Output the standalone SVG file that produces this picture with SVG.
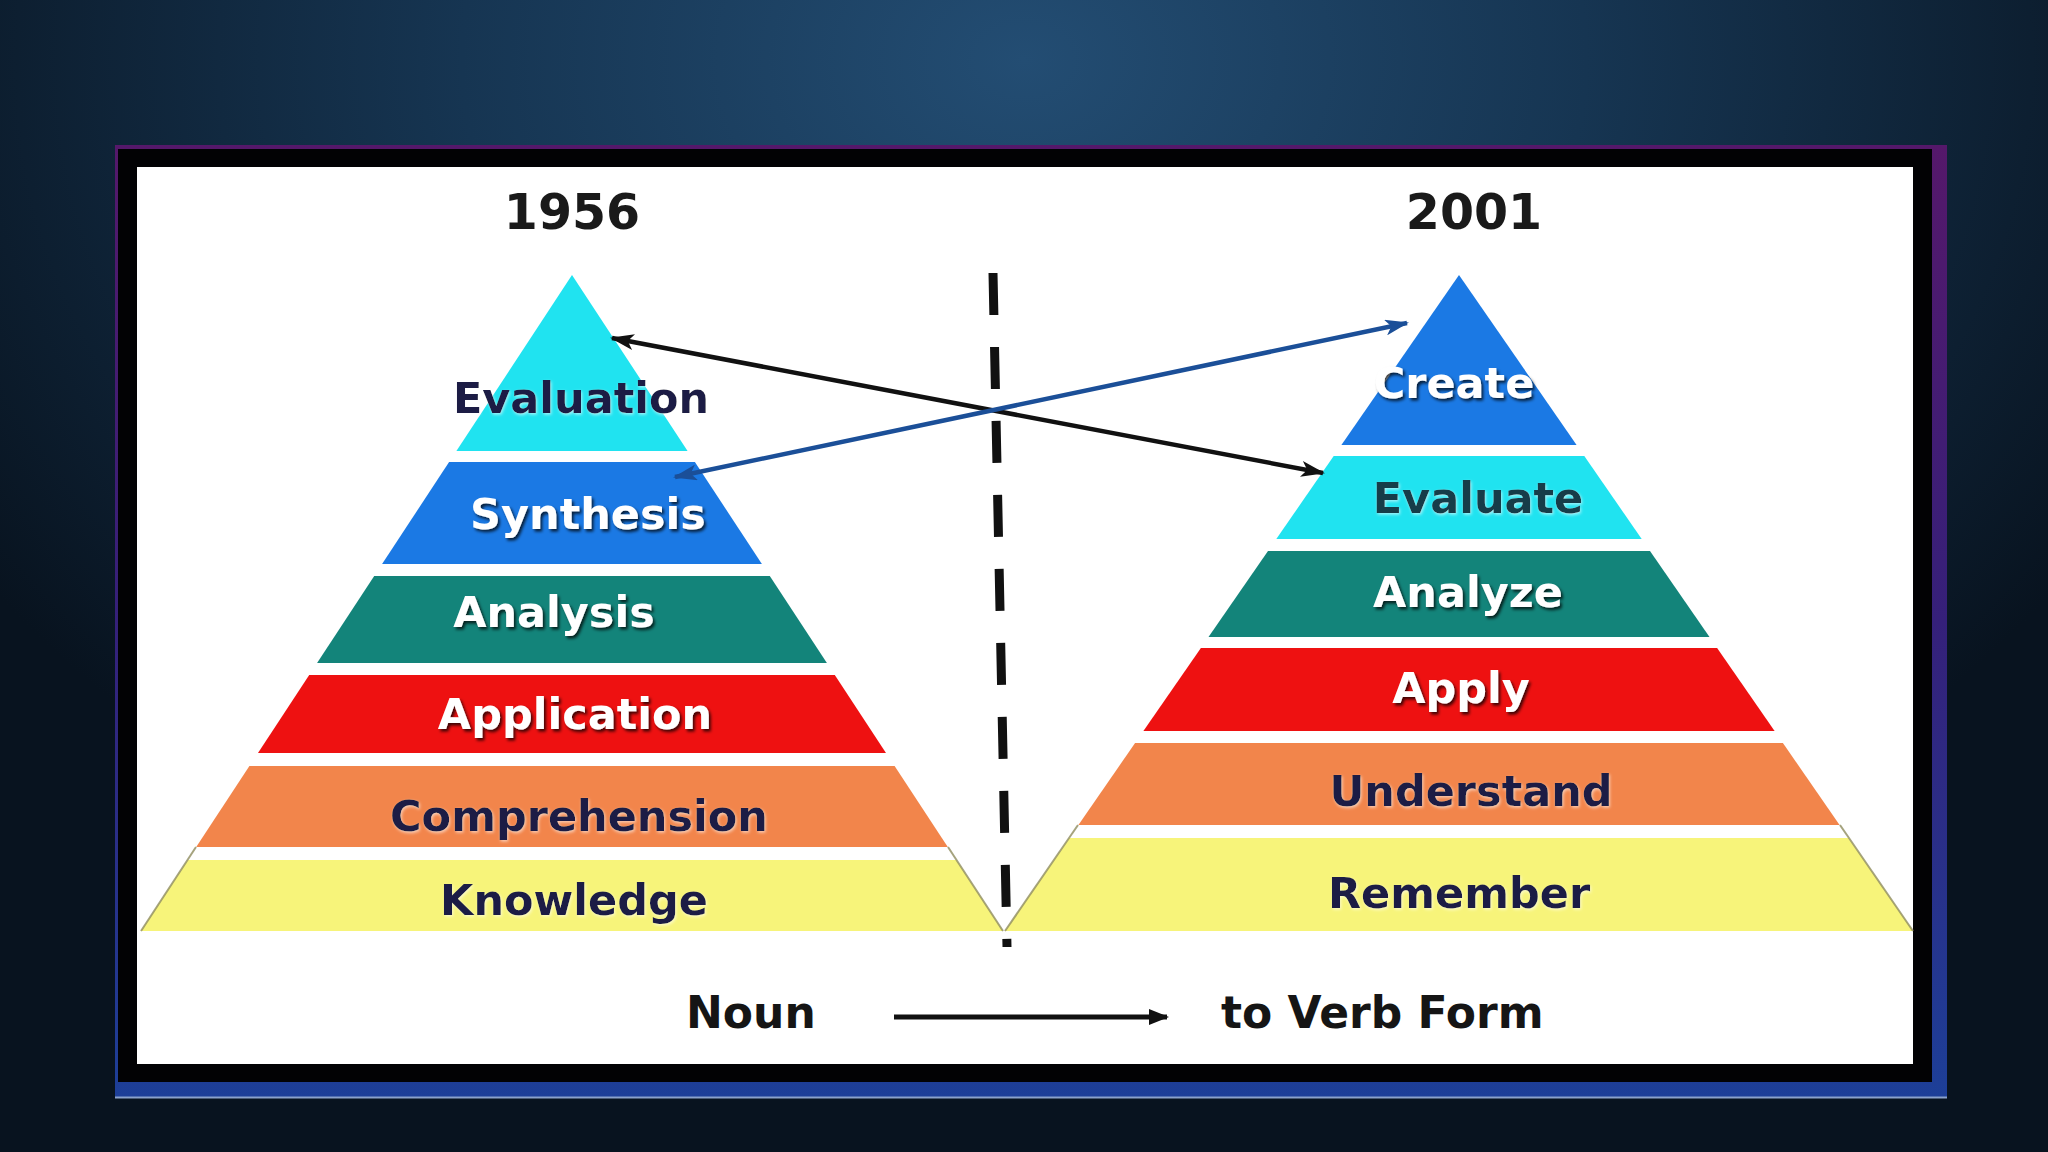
<svg xmlns="http://www.w3.org/2000/svg" width="2048" height="1152" viewBox="0 0 2048 1152">
  <defs>
    <radialGradient id="bg" cx="1024" cy="60" r="1250" gradientUnits="userSpaceOnUse" gradientTransform="translate(1024 60) scale(1 0.75) translate(-1024 -60)">
      <stop offset="0" stop-color="#234d73"/>
      <stop offset="0.45" stop-color="#163552"/>
      <stop offset="1" stop-color="#08131f"/>
    </radialGradient>
    <linearGradient id="frame" x1="0" y1="0" x2="0" y2="1">
      <stop offset="0" stop-color="#55186a"/>
      <stop offset="0.5" stop-color="#35207a"/>
      <stop offset="1" stop-color="#1d3f98"/>
    </linearGradient>
    <filter id="shadowWhite" x="-10%" y="-30%" width="120%" height="160%">
      <feDropShadow dx="2" dy="2.5" stdDeviation="1.6" flood-color="#000" flood-opacity="0.75"/>
    </filter>
    <filter id="glowDark" x="-10%" y="-30%" width="120%" height="160%">
      <feDropShadow dx="1" dy="1.5" stdDeviation="1.5" flood-color="#ffffff" flood-opacity="0.6"/>
    </filter>
    <marker id="ahBlack" viewBox="0 0 24 16" refX="22" refY="8" markerWidth="24" markerHeight="16" markerUnits="userSpaceOnUse" orient="auto-start-reverse">
      <path d="M0,0 L24,8 L0,16 L6,8 Z" fill="#111"/>
    </marker>
    <marker id="ahBlue" viewBox="0 0 24 16" refX="22" refY="8" markerWidth="24" markerHeight="16" markerUnits="userSpaceOnUse" orient="auto-start-reverse">
      <path d="M0,0 L24,8 L0,16 L6,8 Z" fill="#1b4f98"/>
    </marker>
    <marker id="ahNoun" viewBox="0 0 20 16" refX="18" refY="8" markerWidth="20" markerHeight="16" markerUnits="userSpaceOnUse" orient="auto">
      <path d="M0,0 L20,8 L0,16 Z" fill="#111"/>
    </marker>
    <style>
      .lbl { font-family: "DejaVu Sans", Verdana, sans-serif; font-weight: bold; font-size: 43px; text-anchor: middle; }
      .white { fill: #ffffff; filter: url(#shadowWhite); }
      .dark { fill: #1b1f45; filter: url(#glowDark); }
      .year { font-family: "DejaVu Sans", Verdana, sans-serif; font-weight: bold; font-size: 49px; text-anchor: middle; fill: #1a1a1a; }
      .foot { font-family: "DejaVu Sans", Verdana, sans-serif; font-weight: bold; font-size: 44px; fill: #151515; }
      .cyan { fill: #20e3f0; }
      .blue { fill: #1b79e4; }
      .teal { fill: #13847a; }
      .red { fill: #ee1111; }
      .orange { fill: #f2854b; }
      .yellow { fill: #f7f47a; }
      .edge { stroke: #8e8c5e; stroke-width: 2; fill: none; opacity: 0.8; }
    </style>
  </defs>

  <!-- background -->
  <rect x="0" y="0" width="2048" height="1152" fill="url(#bg)"/>

  <!-- frame -->
  <rect x="115" y="145" width="1832" height="953" fill="url(#frame)"/>
  <rect x="118" y="149" width="1814" height="933" fill="#020204"/>
  <rect x="137" y="167" width="1776" height="897" fill="#ffffff"/>
  <line x1="115" y1="1097.5" x2="1947" y2="1097.5" stroke="#8aa2cc" stroke-width="2"/>

  <!-- years -->
  <text class="year" x="572" y="229">1956</text>
  <text class="year" x="1474" y="229">2001</text>

  <!-- left pyramid (1956) -->
  <g id="evaluation">
    <polygon class="cyan" points="572,275 687.6,451 456.4,451"/>
    <text class="lbl dark" x="581" y="413">Evaluation</text>
  </g>
  <g id="synthesis">
    <polygon class="blue" points="449.1,462 694.9,462 761.9,564 382.1,564"/>
    <text class="lbl white" x="588" y="529">Synthesis</text>
  </g>
  <g id="analysis">
    <polygon class="teal" points="374.2,576 769.8,576 826.9,663 317.1,663"/>
    <text class="lbl white" x="554" y="627">Analysis</text>
  </g>
  <g id="application">
    <polygon class="red" points="309.2,675 834.8,675 886,753 258,753"/>
    <text class="lbl white" x="575" y="729">Application</text>
  </g>
  <g id="comprehension">
    <polygon class="orange" points="249.4,766 894.6,766 947.8,847 196.2,847"/>
    <text class="lbl dark" x="579" y="831">Comprehension</text>
  </g>
  <g id="knowledge">
    <polygon class="yellow" points="187.7,860 956.3,860 1003,931 141,931"/>
    <line class="edge" x1="196" y1="847" x2="141" y2="931"/>
    <line class="edge" x1="948" y1="847" x2="1003" y2="931"/>
    <text class="lbl dark" x="574" y="915">Knowledge</text>
  </g>

  <!-- right pyramid (2001) -->
  <g id="create">
    <polygon class="blue" points="1459,275 1576.6,445 1341.4,445"/>
    <text class="lbl white" x="1454" y="398">Create</text>
  </g>
  <g id="evaluate">
    <polygon class="cyan" points="1333.7,456 1584.3,456 1641.7,539 1276.3,539"/>
    <text class="lbl dark" x="1478" y="513" style="fill:#123c4a">Evaluate</text>
  </g>
  <g id="analyze">
    <polygon class="teal" points="1268,551 1650,551 1709.5,637 1208.5,637"/>
    <text class="lbl white" x="1468" y="607">Analyze</text>
  </g>
  <g id="apply">
    <polygon class="red" points="1200.9,648 1717.1,648 1774.6,731 1143.4,731"/>
    <text class="lbl white" x="1461" y="703">Apply</text>
  </g>
  <g id="understand">
    <polygon class="orange" points="1135.1,743 1782.9,743 1839.6,825 1078.4,825"/>
    <text class="lbl dark" x="1471" y="806">Understand</text>
  </g>
  <g id="remember">
    <polygon class="yellow" points="1069.4,838 1848.6,838 1913,931 1005,931"/>
    <line class="edge" x1="1078" y1="825" x2="1005" y2="931"/>
    <line class="edge" x1="1840" y1="825" x2="1913" y2="931"/>
    <text class="lbl dark" x="1459" y="908">Remember</text>
  </g>

  <!-- connectors -->
  <g id="connectors">
    <line x1="993" y1="273" x2="1007" y2="947" stroke="#111" stroke-width="9" stroke-dasharray="42 32"/>
    <line x1="612" y1="338" x2="1323" y2="473" stroke="#111" stroke-width="4.5" marker-start="url(#ahBlack)" marker-end="url(#ahBlack)"/>
    <line x1="675" y1="477" x2="1407" y2="323" stroke="#1b4f98" stroke-width="4.5" marker-start="url(#ahBlue)" marker-end="url(#ahBlue)"/>
    <line x1="894" y1="1017" x2="1167" y2="1017" stroke="#111" stroke-width="5" marker-end="url(#ahNoun)"/>
  </g>

  <!-- footer -->
  <text class="foot" x="686" y="1028">Noun</text>
  <text class="foot" x="1221" y="1028">to Verb Form</text>
</svg>
